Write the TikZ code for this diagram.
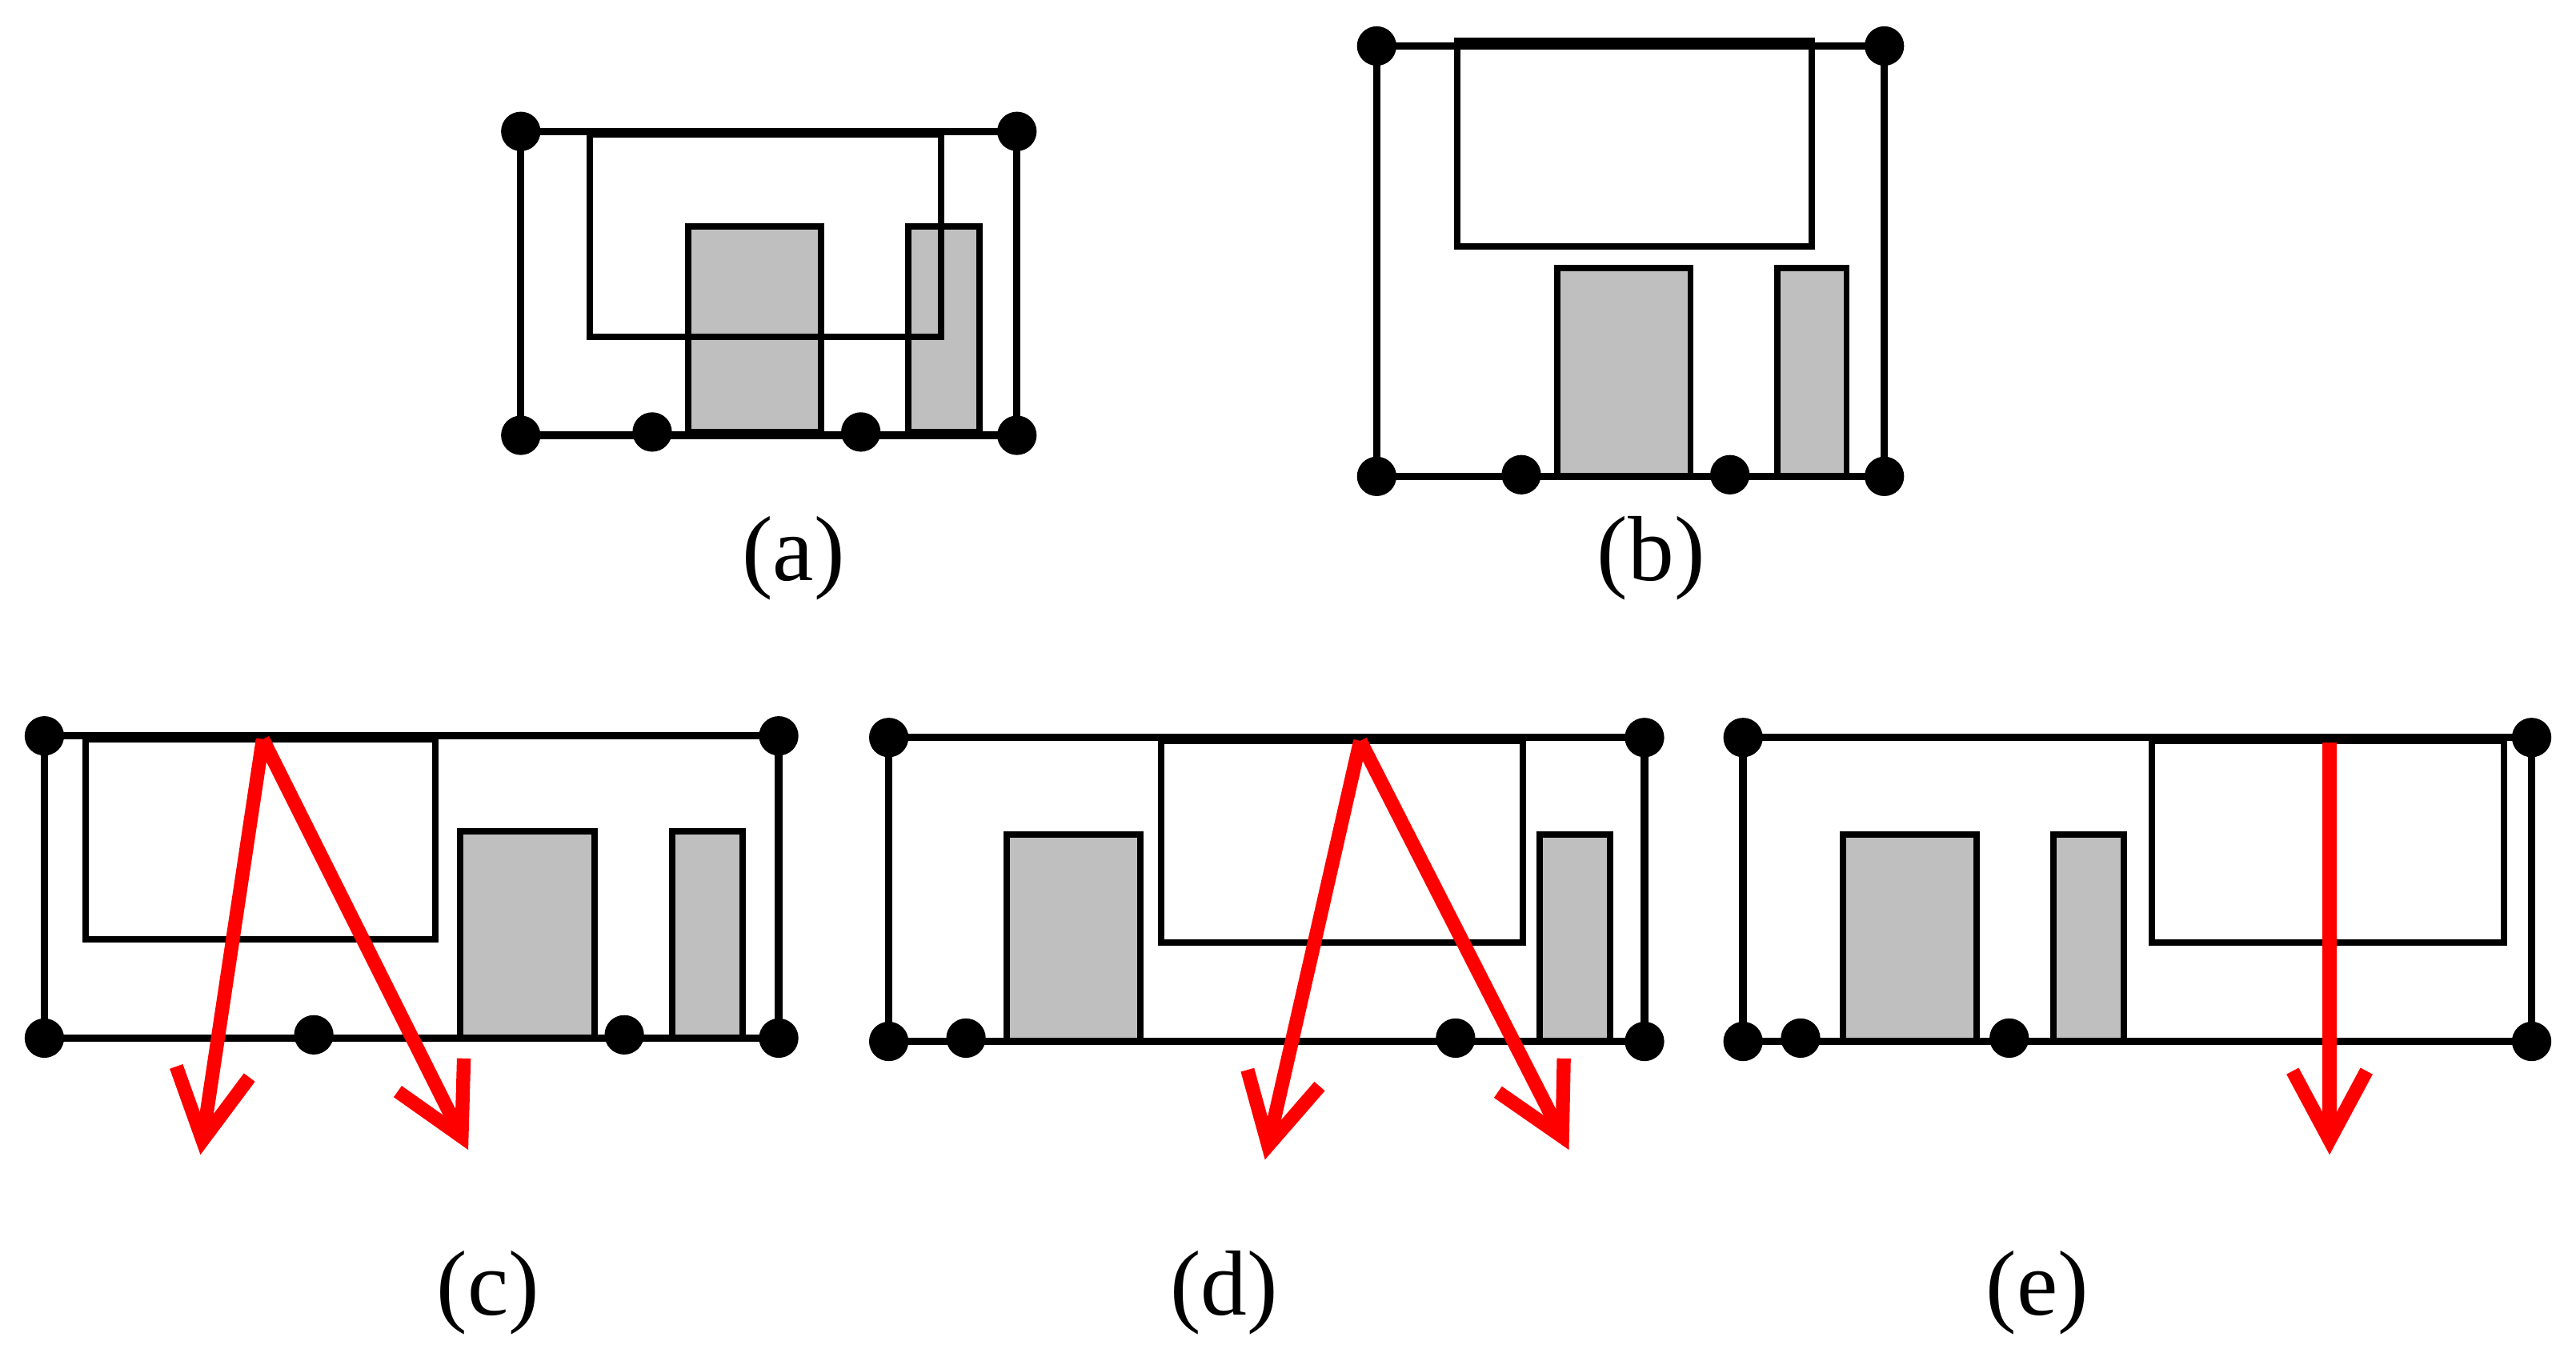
\documentclass[tikz,border=0pt]{standalone}
\usepackage{fontspec}
\setmainfont{Liberation Serif}
\usetikzlibrary{arrows.meta}
\begin{document}
\begin{tikzpicture}[x=0.01cm,y=-0.01cm,
  frame/.style={line width=1.3pt},
  inner/.style={line width=1.1pt},
  grayb/.style={fill=gray!50,draw=black,line width=1.1pt},
  dot/.style={fill=black},
  redarr/.style={red,line width=2.4pt,-{Straight Barb[length=0.42cm,width=0.45cm,line width=2.4pt]}},
  lab/.style={font=\fontsize{16}{19}\selectfont}]
\useasboundingbox (0,0) rectangle (1568,821);
\def\dr{12}
% (a)
\draw[grayb] (419,138) rectangle (500,263);
\draw[grayb] (553,138) rectangle (596,263);
\draw[inner] (359,82) rectangle (573,205);
\draw[frame] (317,80) rectangle (619,265);
\foreach \p in {(317,80),(619,80),(317,265),(619,265),(397,263),(524,263)} \fill[dot] \p circle (\dr);
\node[lab] (la) at (483,340) {(a)};
% (b)
\draw[grayb] (948,163) rectangle (1029,290);
\draw[grayb] (1082,163) rectangle (1124,290);
\draw[inner] (887,25) rectangle (1103,150);
\draw[frame] (838,28) rectangle (1147,290);
\foreach \p in {(838,28),(1147,28),(838,290),(1147,290),(926,289),(1053,289)} \fill[dot] \p circle (\dr);
\node[lab] (lb) at (1005,340) {(b)};
% (c)
\draw[grayb] (280,506) rectangle (362,632);
\draw[grayb] (409,506) rectangle (452,632);
\draw[inner] (52,450) rectangle (265,572);
\draw[frame] (27,448) rectangle (474,632);
\foreach \p in {(27,448),(474,448),(27,632),(474,632),(191,630),(380,630)} \fill[dot] \p circle (\dr);
\coordinate (c0) at (160,450);
\coordinate (c1) at (122,703);
\coordinate (c2) at (285,700);
\draw[redarr] (c0) -- (c1);
\draw[redarr] (c0) -- (c2);
\node[lab] (lc) at (297,787) {(c)};
% (d)
\draw[grayb] (613,508) rectangle (694,634);
\draw[grayb] (937,508) rectangle (980,634);
\draw[inner] (707,451) rectangle (927,574);
\draw[frame] (541,449) rectangle (1001,634);
\foreach \p in {(541,449),(1001,449),(541,634),(1001,634),(588,632),(886,632)} \fill[dot] \p circle (\dr);
\coordinate (d0) at (828,451);
\coordinate (d1) at (770,706);
\coordinate (d2) at (955,700);
\draw[redarr] (d0) -- (d1);
\draw[redarr] (d0) -- (d2);
\node[lab] (ld) at (745,787) {(d)};
% (e)
\draw[grayb] (1122,508) rectangle (1203,634);
\draw[grayb] (1250,508) rectangle (1293,634);
\draw[inner] (1310,451) rectangle (1524,574);
\draw[frame] (1061,449) rectangle (1541,634);
\foreach \p in {(1061,449),(1541,449),(1061,634),(1541,634),(1096,632),(1223,632)} \fill[dot] \p circle (\dr);
\coordinate (e0) at (1418,452);
\coordinate (e1) at (1418,703);
\draw[redarr] (e0) -- (e1);
\node[lab] (le) at (1240,787) {(e)};
\end{tikzpicture}
\end{document}
